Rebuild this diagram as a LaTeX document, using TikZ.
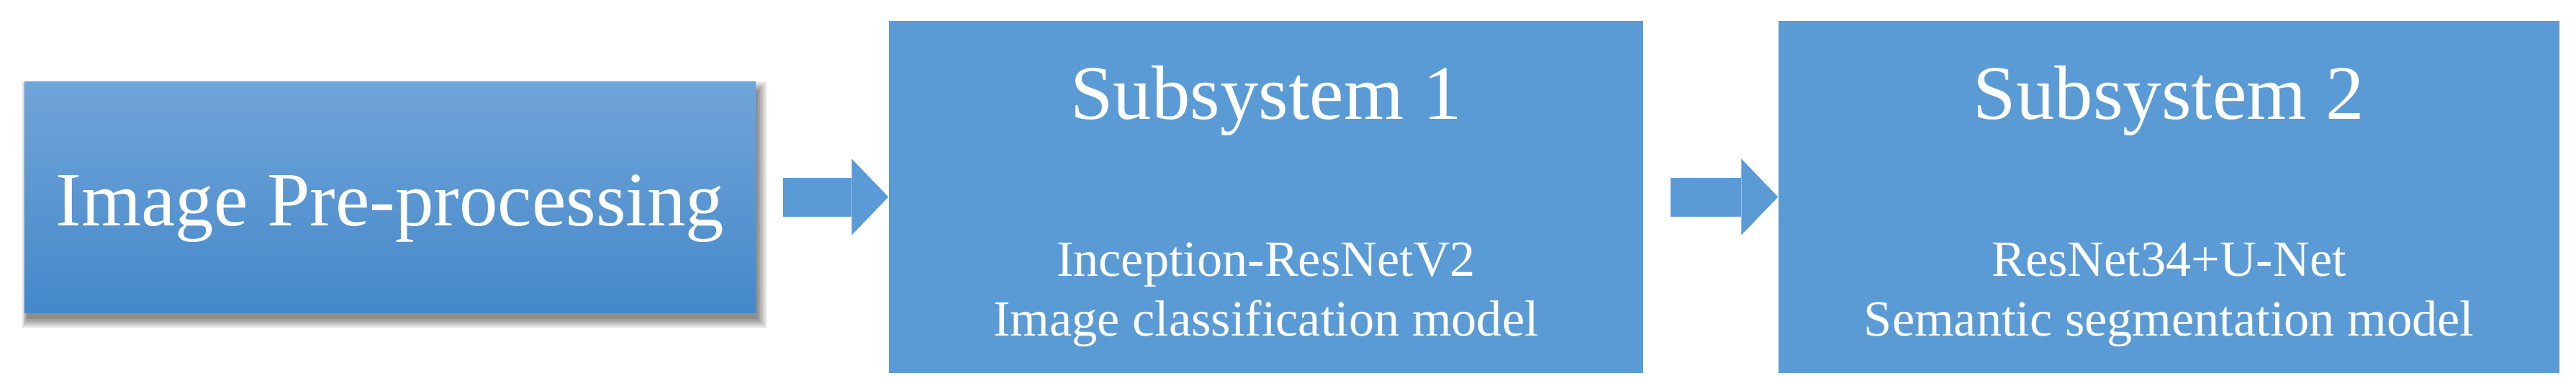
\documentclass[tikz,border=0pt]{standalone}
\usepackage{fontspec}
\setmainfont{Liberation Serif}
\usetikzlibrary{arrows.meta,calc,backgrounds,positioning}
\definecolor{boxblue}{HTML}{5B9BD5}
\definecolor{gradtop}{HTML}{71A5DA}
\definecolor{gradbot}{HTML}{4488C9}
\begin{document}
\begin{tikzpicture}[
  block/.style={fill=boxblue, minimum width=10.48cm, minimum height=4.89cm, inner sep=0pt},
  bigtxt/.style={anchor=base, text=white, inner sep=0pt, font=\fontsize{30.4}{36}\selectfont},
  smalltxt/.style={anchor=base, text=white, inner sep=0pt, font=\fontsize{20}{24}\selectfont},
  flow/.style={line width=0.54cm, draw=boxblue, -{Triangle[length=0.51cm, width=1.06cm, line width=0pt]}}
]
\useasboundingbox (0,0) rectangle (35.79,5.42);

% pre-processing box, shaded
\node[minimum width=10.16cm, minimum height=3.21cm, inner sep=0pt, top color=gradtop, bottom color=gradbot] (pre) at (5.42,2.685) {};
\node[bigtxt] (pretxt) at ($(pre.center)+(0,-0.395)$) {Image Pre-processing};

% soft shadow under it
\begin{scope}[on background layer]
\foreach \s in {0,0.03,0.06,0.09,0.12}
  \fill[black, opacity=0.11] ($(pre.south west)+(0.04-0.5*\s,-0.08-\s)$) rectangle ($(pre.north east)+(0.02+\s,-0.14+\s)$);
\end{scope}

% subsystems
\node[block] (sub1) at (17.59,2.685) {};
\node[block, minimum width=10.85cm] (sub2) at (30.135,2.685) {};

\node[bigtxt] (sub1title) at ($(sub1.north)+(0,-1.37)$) {Subsystem 1};
\node[smalltxt] (sub1net) at ($(sub1.north)+(0,-3.55)$) {Inception-ResNetV2};
\node[smalltxt] (sub1task) at ($(sub1.north)+(0,-4.38)$) {Image classification model};

\node[bigtxt] (sub2title) at ($(sub2.north)+(0,-1.37)$) {Subsystem 2};
\node[smalltxt] (sub2net) at ($(sub2.north)+(0,-3.55)$) {ResNet34+U-Net};
\node[smalltxt] (sub2task) at ($(sub2.north)+(0,-4.38)$) {Semantic segmentation model};

% block arrows
\draw[flow] ($(pre.east)+(0.37,0)$) -- (sub1.west);
\draw[flow] ($(sub1.east)+(0.37,0)$) -- (sub2.west);

\end{tikzpicture}
\end{document}
